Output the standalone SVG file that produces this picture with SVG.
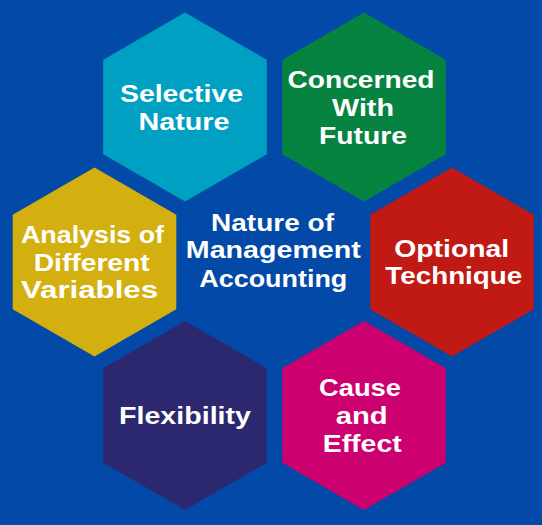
<svg xmlns="http://www.w3.org/2000/svg" width="542" height="525" viewBox="0 0 542 525">
<defs>
<style>
.t{font-family:"Liberation Sans",Arial,sans-serif;font-weight:700;font-size:24.5px;fill:#fff;text-anchor:middle}
</style>
<polygon id="hex" points="0,-94.5 81.8,-47.25 81.8,47.25 0,94.5 -81.8,47.25 -81.8,-47.25"/>
</defs>
<rect width="542" height="525" fill="#0249A8"/>
<g id="n-selective"><use href="#hex" x="185" y="107" fill="#00A0C2"/><text class="t" x="181.5" y="102" textLength="123" lengthAdjust="spacingAndGlyphs">Selective</text><text class="t" x="184" y="130" textLength="91" lengthAdjust="spacingAndGlyphs">Nature</text></g>
<g id="n-future"><use href="#hex" x="364" y="107" fill="#068340"/><text class="t" x="361" y="88" textLength="147" lengthAdjust="spacingAndGlyphs">Concerned</text><text class="t" x="363" y="116" textLength="62" lengthAdjust="spacingAndGlyphs">With</text><text class="t" x="363" y="144" textLength="88" lengthAdjust="spacingAndGlyphs">Future</text></g>
<g id="n-analysis"><use href="#hex" x="94.5" y="262" fill="#D3B010"/><text class="t" x="92.5" y="243" textLength="143" lengthAdjust="spacingAndGlyphs">Analysis of</text><text class="t" x="91.7" y="271" textLength="116" lengthAdjust="spacingAndGlyphs">Different</text><text class="t" x="89.5" y="298" textLength="137" lengthAdjust="spacingAndGlyphs">Variables</text></g>
<g id="n-center"><text class="t" x="272.5" y="231" textLength="123" lengthAdjust="spacingAndGlyphs">Nature of</text><text class="t" x="273.3" y="258" textLength="175" lengthAdjust="spacingAndGlyphs">Management</text><text class="t" x="273.3" y="287" textLength="148" lengthAdjust="spacingAndGlyphs">Accounting</text></g>
<g id="n-optional"><use href="#hex" x="452" y="262" fill="#C11914"/><text class="t" x="451.7" y="257" textLength="115" lengthAdjust="spacingAndGlyphs">Optional</text><text class="t" x="453.8" y="284" textLength="137" lengthAdjust="spacingAndGlyphs">Technique</text></g>
<g id="n-flex"><use href="#hex" x="185" y="415.5" fill="#2C2870"/><text class="t" x="185" y="424" textLength="132" lengthAdjust="spacingAndGlyphs">Flexibility</text></g>
<g id="n-cause"><use href="#hex" x="364" y="415.5" fill="#CC006E"/><text class="t" x="360" y="396" textLength="82" lengthAdjust="spacingAndGlyphs">Cause</text><text class="t" x="361.7" y="424" textLength="52" lengthAdjust="spacingAndGlyphs">and</text><text class="t" x="362.2" y="452" textLength="79" lengthAdjust="spacingAndGlyphs">Effect</text></g>
<g id="connectors"></g>
</svg>
